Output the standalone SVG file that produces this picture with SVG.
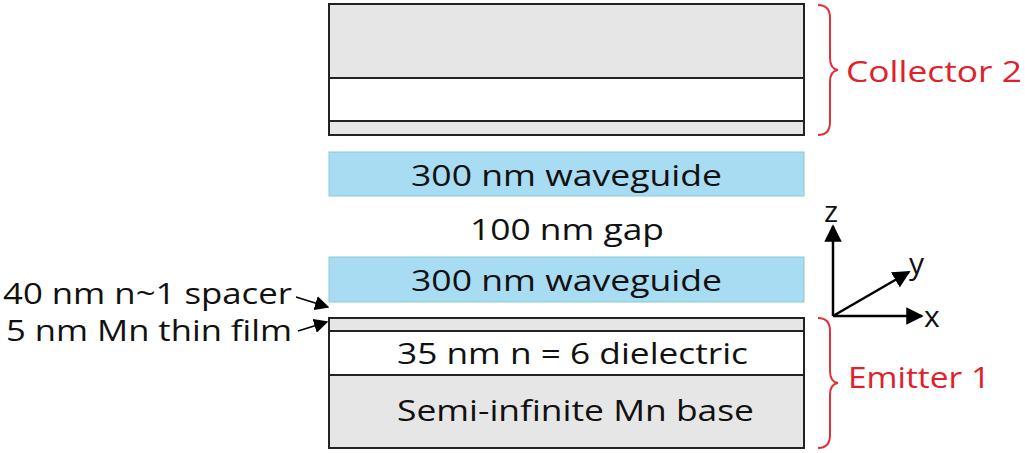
<svg xmlns="http://www.w3.org/2000/svg" width="1025" height="453" viewBox="0 0 1025 453">
<style>
.t{font-family:"Open Sans","Liberation Sans",sans-serif;font-size:30px;fill:#111}
.r{font-family:"Open Sans","Liberation Sans",sans-serif;font-size:30px;fill:#e0202a}
.g{fill:#e6e6e6;stroke:#222;stroke-width:2}
.w{fill:#fff;stroke:#222;stroke-width:2}
.b{fill:#a8dcf2;stroke:#8cc;stroke-width:1}
.br{fill:none;stroke:#e0303a;stroke-width:2}
.ax{stroke:#000;stroke-width:2.5;fill:none}
</style>
<defs><marker id="a" viewBox="0 0 10 10" refX="9" refY="5" markerWidth="7" markerHeight="7" orient="auto" markerUnits="strokeWidth"><path d="M0,0L10,5L0,10z" fill="#000"/></marker>
<marker id="s" viewBox="0 0 10 10" refX="9" refY="5" markerWidth="8" markerHeight="8" orient="auto" markerUnits="strokeWidth"><path d="M0,0L10,5L0,10z" fill="#000"/></marker></defs>
<rect width="1025" height="453" fill="#fff"/>
<g id="collector">
<rect class="g" x="329" y="4" width="475" height="74"/>
<rect class="w" x="329" y="78" width="475" height="43"/>
<rect class="g" x="329" y="121" width="475" height="14"/>
</g>
<g id="wg1"><rect class="b" x="329" y="152" width="475" height="44"/><text class="t" x="411" y="186" textLength="311" lengthAdjust="spacingAndGlyphs">300 nm waveguide</text></g>
<g id="gap"><text class="t" x="470" y="240" textLength="194" lengthAdjust="spacingAndGlyphs">100 nm gap</text></g>
<g id="wg2"><rect class="b" x="329" y="257" width="475" height="45"/><text class="t" x="411" y="291" textLength="311" lengthAdjust="spacingAndGlyphs">300 nm waveguide</text></g>
<g id="emitter">
<rect class="g" x="329" y="318" width="475" height="13"/>
<rect class="w" x="329" y="331" width="475" height="44"/>
<rect class="g" x="329" y="375" width="475" height="73"/>
<text class="t" x="397" y="364" textLength="351" lengthAdjust="spacingAndGlyphs">35 nm n = 6 dielectric</text>
<text class="t" x="397" y="421" textLength="357" lengthAdjust="spacingAndGlyphs">Semi-infinite Mn base</text>
</g>
<g id="labels">
<text class="t" x="3" y="304" textLength="289" lengthAdjust="spacingAndGlyphs">40 nm n~1 spacer</text>
<text class="t" x="6" y="341" textLength="286" lengthAdjust="spacingAndGlyphs">5 nm Mn thin film</text>
<text class="r" x="846" y="82" textLength="176" lengthAdjust="spacingAndGlyphs">Collector 2</text>
<text class="r" x="848" y="388" textLength="142" lengthAdjust="spacingAndGlyphs">Emitter 1</text>
<path class="br" d="M818,5 Q830,5 830,18 L830,58 Q830,69 838,70 Q830,71 830,82 L830,122 Q830,135 818,135"/>
<path class="br" d="M818,318 Q830,318 830,331 L830,371 Q830,382 838,383 Q830,384 830,395 L830,435 Q830,448 818,448"/>
<text class="t" x="824" y="222">z</text>
<text class="t" x="909" y="274">y</text>
<text class="t" x="924" y="327">x</text>
</g>
<g id="connectors">
<line x1="296" y1="297" x2="328" y2="307" stroke="#000" stroke-width="1.8" marker-end="url(#s)"/>
<line x1="298" y1="331" x2="327" y2="322" stroke="#000" stroke-width="1.8" marker-end="url(#s)"/>
<line class="ax" x1="833" y1="316" x2="833" y2="226" marker-end="url(#a)"/>
<line class="ax" x1="833" y1="316" x2="922" y2="316" marker-end="url(#a)"/>
<line class="ax" x1="833" y1="316" x2="909" y2="272" marker-end="url(#a)"/>
</g>
</svg>
